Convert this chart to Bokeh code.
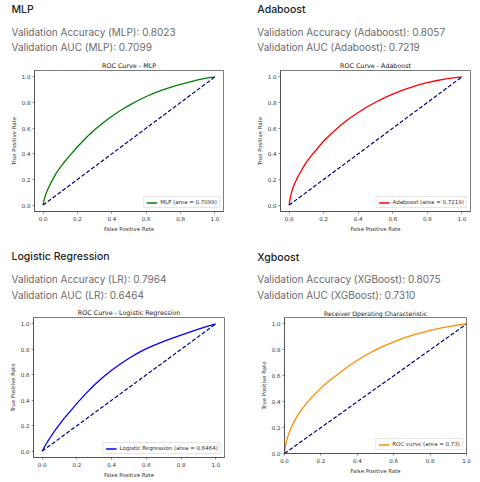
from bokeh.plotting import figure
from bokeh.models import Range1d, FixedTicker, PrintfTickFormatter, Div
from bokeh.layouts import column, row
from bokeh.embed import file_html
from bokeh.resources import INLINE

# ---------------- data ----------------
tick_values = [0.0, 0.2, 0.4, 0.6, 0.8, 1.0]
diag = [0.0, 1.0]

fpr_grid = [0.0, 0.005, 0.01, 0.02, 0.03, 0.05, 0.075, 0.10, 0.125, 0.15, 0.20, 0.25, 0.30, 0.35,
            0.40, 0.45, 0.50, 0.55, 0.60, 0.65, 0.70, 0.75, 0.80, 0.85, 0.90, 0.95, 1.0]

mlp_fpr = fpr_grid
mlp_tpr = [0.0, 0.035, 0.062, 0.10, 0.132, 0.185, 0.245, 0.295, 0.338, 0.378, 0.455, 0.525, 0.587, 0.643,
           0.693, 0.738, 0.778, 0.814, 0.847, 0.875, 0.90, 0.922, 0.942, 0.96, 0.976, 0.99, 1.0]

ada_fpr = fpr_grid
ada_tpr = [0.0, 0.045, 0.08, 0.125, 0.162, 0.22, 0.28, 0.335, 0.38, 0.42, 0.50, 0.565, 0.625, 0.677,
           0.722, 0.765, 0.802, 0.836, 0.866, 0.893, 0.916, 0.937, 0.955, 0.97, 0.983, 0.993, 1.0]

lr_fpr = fpr_grid
lr_tpr = [0.0, 0.012, 0.025, 0.05, 0.072, 0.115, 0.165, 0.21, 0.255, 0.295, 0.375, 0.45, 0.52, 0.58,
          0.635, 0.685, 0.73, 0.77, 0.805, 0.835, 0.862, 0.888, 0.912, 0.935, 0.958, 0.98, 1.0]

xgb_fpr = fpr_grid
xgb_tpr = [0.0, 0.055, 0.09, 0.14, 0.177, 0.24, 0.30, 0.35, 0.395, 0.435, 0.505, 0.565, 0.62, 0.672,
           0.72, 0.762, 0.80, 0.833, 0.862, 0.888, 0.912, 0.932, 0.95, 0.966, 0.98, 0.992, 1.0]

headings = ["MLP", "Adaboost", "Logistic Regression", "Xgboost"]
acc_lines = ["Validation Accuracy (MLP): 0.8023", "Validation Accuracy (Adaboost): 0.8057",
             "Validation Accuracy (LR): 0.7964", "Validation Accuracy (XGBoost): 0.8075"]
auc_lines = ["Validation AUC (MLP): 0.7099", "Validation AUC (Adaboost): 0.7219",
             "Validation AUC (LR): 0.6464", "Validation AUC (XGBoost): 0.7310"]
plot_titles = ["ROC Curve - MLP", "ROC Curve - Adaboost",
               "ROC Curve - Logistic Regression", "Receiver Operating Characteristic"]
legend_labels = ["MLP (area = 0.7099)", "Adaboost (area = 0.7219)",
                 "Logistic Regression (area = 0.6464)", "ROC curve (area = 0.73)"]
curve_colors = ["green", "red", "blue", "darkorange"]


# ---------------- helpers ----------------
def heading_div(width, height, left, tops, head, acc, auc):
    base = "position:absolute;white-space:nowrap;line-height:12px;"
    html = (
        f'<div style="position:relative;width:{width}px;height:{height}px;font-family:Inter,sans-serif;">'
        f'<div style="{base}left:{left}px;top:{tops[0]}px;font-size:10.5px;font-weight:500;color:#242424;">{head}</div>'
        f'<div style="{base}left:{left}px;top:{tops[1]}px;font-size:10px;color:#6b6b6b;">{acc}</div>'
        f'<div style="{base}left:{left}px;top:{tops[2]}px;font-size:10px;color:#6b6b6b;">{auc}</div>'
        '</div>'
    )
    return Div(text=html, width=width, height=height, margin=0)


def roc_fig(width, height, xr, yr, borders, title, title_size, fpr, tpr, color, label, xlab_standoff=2):
    l, r, t, b = borders
    p = figure(width=width, height=height, x_range=Range1d(*xr), y_range=Range1d(*yr),
               output_backend="svg", toolbar_location=None,
               min_border_left=l, min_border_right=r, min_border_top=t, min_border_bottom=b)
    p.title.text = title
    p.title.align = "center"
    p.title.text_font = "DejaVu Sans"
    p.title.text_font_size = title_size
    p.title.text_font_style = "normal"
    p.title.text_color = "#222222"
    p.title.standoff = 2
    p.grid.visible = False
    p.outline_line_color = "#444444"
    p.outline_line_width = 0.7
    for ax in (p.xaxis[0], p.yaxis[0]):
        ax.ticker = FixedTicker(ticks=tick_values)
        ax.formatter = PrintfTickFormatter(format="%.1f")
        ax.major_label_text_font = "DejaVu Sans"
        ax.major_label_text_font_size = "5.5px"
        ax.major_label_text_color = "#333333"
        ax.axis_label_text_font = "DejaVu Sans"
        ax.axis_label_text_font_size = "5.4px"
        ax.axis_label_text_font_style = "normal"
        ax.axis_label_text_color = "#333333"
        ax.major_tick_out = 2
        ax.major_tick_in = 0
        ax.minor_tick_out = 0
        ax.minor_tick_in = 0
        ax.major_tick_line_color = "#444444"
        ax.major_tick_line_width = 0.6
        ax.axis_line_color = "#444444"
        ax.axis_line_width = 0.7
        ax.major_label_standoff = 2
        ax.axis_label_standoff = 2
    p.xaxis[0].axis_label = "False Positive Rate"
    p.xaxis[0].axis_label_standoff = xlab_standoff
    p.yaxis[0].axis_label = "True Positive Rate"

    p.line(fpr, tpr, line_color=color, line_width=1.3, legend_label=label)
    p.line(diag, diag, line_color="navy", line_width=1.2, line_dash="4 2")

    lg = p.legend[0]
    lg.location = "bottom_right"
    lg.label_text_font = "DejaVu Sans"
    lg.label_text_font_size = "5.5px"
    lg.label_text_color = "#333333"
    lg.glyph_width = 11
    lg.glyph_height = 5
    lg.label_height = 5
    lg.label_standoff = 3
    lg.padding = 2
    lg.margin = 3
    lg.spacing = 0
    lg.border_line_color = "#cccccc"
    lg.border_line_width = 0.7
    lg.background_fill_color = "white"
    lg.background_fill_alpha = 1.0
    return p


std = (-0.05, 1.05)

div_a = heading_div(248, 58, 11.5, (4.0, 25.5, 40.5), headings[0], acc_lines[0], auc_lines[0])
div_b = heading_div(231, 58, 9.3, (4.2, 25.8, 41.0), headings[1], acc_lines[1], auc_lines[1])
div_c = heading_div(248, 50, 11.5, (-2.8, 19.0, 34.5), headings[2], acc_lines[2], auc_lines[2])
div_d = heading_div(231, 50, 9.3, (-2.5, 19.3, 34.5), headings[3], acc_lines[3], auc_lines[3])

fig_a = roc_fig(248, 196, std, std, (34, 25, 12, 43), plot_titles[0], "6.4px",
                mlp_fpr, mlp_tpr, curve_colors[0], legend_labels[0])
fig_b = roc_fig(231, 196, std, std, (32, 9, 12, 43), plot_titles[1], "6.4px",
                ada_fpr, ada_tpr, curve_colors[1], legend_labels[1])
fig_c = roc_fig(248, 176, std, std, (33, 24, 13, 20), plot_titles[2], "6.4px",
                lr_fpr, lr_tpr, curve_colors[2], legend_labels[2])
fig_d = roc_fig(231, 176, (0.0, 1.0), (0.0, 1.05), (36, 13, 13, 27), plot_titles[3], "6.1px",
                xgb_fpr, xgb_tpr, curve_colors[3], legend_labels[3])

layout = column(
    row(column(div_a, fig_a), column(div_b, fig_b)),
    row(column(div_c, fig_c), column(div_d, fig_d)),
)

open("out.html", "w").write(file_html(layout, INLINE))
